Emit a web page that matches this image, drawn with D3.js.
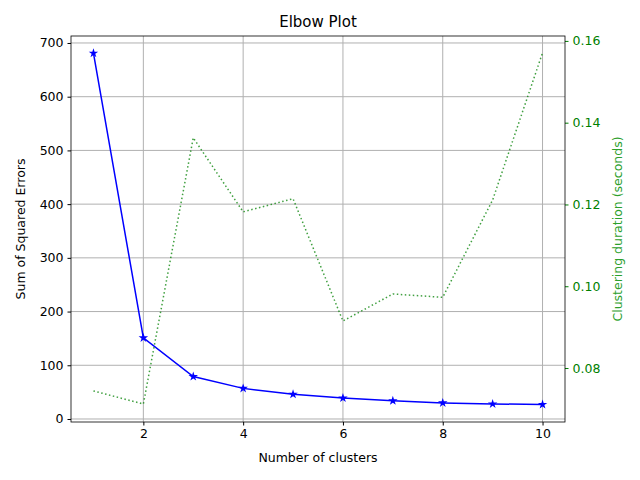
<!DOCTYPE html><html><head><script src="https://d3js.org/d3.v7.min.js"></script>
<style>body{margin:0;background:#fff}text{font-family:"DejaVu Sans",sans-serif}</style></head><body>
<script>
const clusters=[1,2,3,4,5,6,7,8,9,10];
const sse=[681,151,79,57,46,39,34,30,28,27];
const duration=[0.0744,0.0712,0.1363,0.1182,0.1214,0.0915,0.0981,0.0973,0.1211,0.1571];
const xTicks=[2,4,6,8,10];
const yTicks=[0,100,200,300,400,500,600,700];
const y2Ticks=[0.08,0.10,0.12,0.14,0.16];
const L=71,R=565,T=36,B=422;
const svg=d3.select("body").append("svg").attr("width",640).attr("height",480);
const x=d3.scaleLinear().domain([0.55,10.45]).range([L,R]);
const y=d3.scaleLinear().domain([-5.6,713]).range([B,T]);
const y2=d3.scaleLinear().domain([0.0668,0.1612]).range([B,T]);
const g=svg.append("g");
g.selectAll(".gx").data(xTicks).join("line").attr("x1",d=>x(d)).attr("x2",d=>x(d)).attr("y1",T).attr("y2",B).attr("stroke","#b0b0b0").attr("stroke-width",1);
g.selectAll(".gy").data(yTicks).join("line").attr("y1",d=>y(d)).attr("y2",d=>y(d)).attr("x1",L).attr("x2",R).attr("stroke","#b0b0b0").attr("stroke-width",1);
const fs="12.5px";
svg.append("g").attr("transform",`translate(0,${B})`).call(d3.axisBottom(x).tickValues(xTicks).tickSize(3.5).tickPadding(4)).call(a=>{a.select(".domain").remove();a.selectAll("text").style("font-size",fs).attr("font-family","DejaVu Sans")});
svg.append("g").attr("transform",`translate(${L},0)`).call(d3.axisLeft(y).tickValues(yTicks).tickSize(3.5).tickPadding(4)).call(a=>{a.select(".domain").remove();a.selectAll("text").style("font-size",fs).attr("font-family","DejaVu Sans")});
svg.append("g").attr("transform",`translate(${R},0)`).call(d3.axisRight(y2).tickValues(y2Ticks).tickFormat(d3.format(".2f")).tickSize(3.5).tickPadding(4)).call(a=>{a.select(".domain").remove();a.selectAll("line").attr("stroke","green");a.selectAll("text").style("font-size",fs).attr("fill","green").attr("font-family","DejaVu Sans")});
svg.append("path").datum(clusters).attr("fill","none").attr("stroke","blue").attr("stroke-width",1.5).attr("d",d3.line().x(d=>x(d)).y((d,i)=>y(sse[i])));
svg.append("g").selectAll("path").data(clusters).join("path").attr("d",d3.symbol(d3.symbolStar,28)).attr("transform",(d,i)=>`translate(${x(d)},${y(sse[i])})`).attr("fill","blue");
svg.append("path").datum(clusters).attr("fill","none").attr("stroke","green").attr("stroke-opacity",0.75).attr("stroke-width",1.5).attr("stroke-dasharray","1.5,2.5").attr("d",d3.line().x(d=>x(d)).y((d,i)=>y2(duration[i])));
svg.append("rect").attr("x",L).attr("y",T).attr("width",R-L).attr("height",B-T).attr("fill","none").attr("stroke","black").attr("stroke-width",0.8);
svg.append("text").attr("x",(L+R)/2).attr("y",27).attr("text-anchor","middle").style("font-size","15px").text("Elbow Plot");
svg.append("text").attr("x",(L+R)/2).attr("y",462).attr("text-anchor","middle").style("font-size",fs).text("Number of clusters");
svg.append("text").attr("transform",`translate(25,${(T+B)/2}) rotate(-90)`).attr("text-anchor","middle").style("font-size",fs).text("Sum of Squared Errors");
svg.append("text").attr("transform",`translate(622,${(T+B)/2}) rotate(-90)`).attr("text-anchor","middle").style("font-size",fs).attr("fill","#2ca02c").text("Clustering duration (seconds)");
</script></body></html>
